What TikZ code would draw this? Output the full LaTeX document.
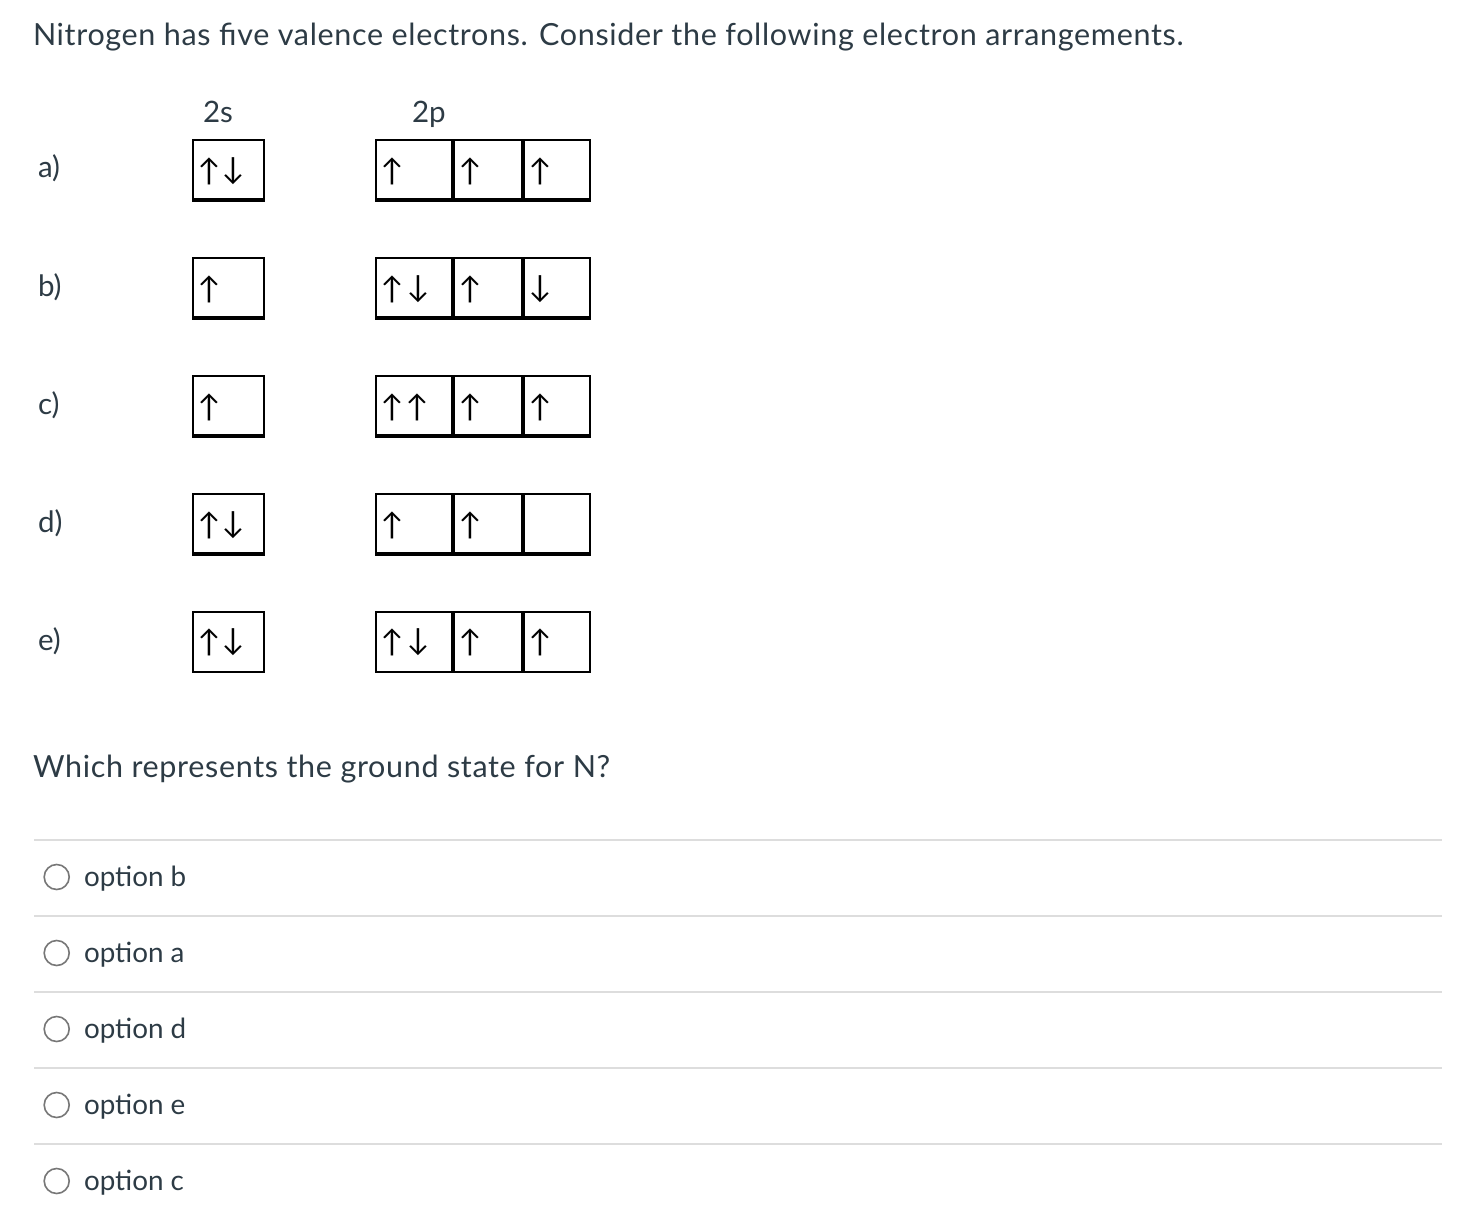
\documentclass[tikz,border=0pt]{standalone}
\usepackage{fontspec}
\setmainfont{Lato}
\newfontfamily\spacedfont[LetterSpace=2.2]{Lato}
\newfontfamily\arrowfont{Lato}
\definecolor{txtc}{HTML}{2D3B45}
\definecolor{sepc}{HTML}{DDDDDD}
\definecolor{radioc}{HTML}{777777}
\tikzset{
  txt/.style={text=txtc, font=\fontsize{29.5}{34}\selectfont, inner sep=0pt, outer sep=0pt, anchor=base west},
  bigtxt/.style={txt, font=\spacedfont\fontsize{30.5}{35}\selectfont},
  opttxt/.style={txt, font=\fontsize{27.8}{32}\selectfont},
  cell/.style={draw=black, line width=2pt, anchor=north west, minimum height=60pt, inner sep=0pt, outer sep=0pt},
  arr/.style={text=black, font=\arrowfont\fontsize{30.5}{34}\selectfont, inner sep=0pt, anchor=center},
  thickline/.style={black, line width=3.5pt},
  sepline/.style={sepc, line width=2pt},
  radio/.style={circle, draw=radioc, line width=1.6pt, minimum size=25pt, inner sep=0pt},
}
\begin{document}
\begin{tikzpicture}[x=1pt,y=-1pt]
\useasboundingbox[fill=white] (0,0) rectangle (1468,1228);

\node[bigtxt] (title) at (33,46) {Nitrogen has five valence electrons. Consider the following electron arrangements.};
\node[txt] (h2s) at (203,123) {2s};
\node[txt] (h2p) at (412,123) {2p};

\foreach \r/\y in {a/140,b/258,c/376,d/494,e/612}{
  \node[txt] (\r lab) at (38,\y+38) {\r)};
  \node[cell, minimum width=71pt] (\r s) at (193,\y) {};
  \node[cell, minimum width=77pt] (\r p1) at (376,\y) {};
  \node[cell, minimum width=70pt] (\r p2) at (453,\y) {};
  \node[cell, minimum width=67pt] (\r p3) at (523,\y) {};
  \draw[thickline] (\r p1.north east) -- (\r p1.south east);
  \draw[thickline] (\r p2.north east) -- (\r p2.south east);
}
\foreach \r in {a,b,c,d}{
  \draw[thickline] ([xshift=-1pt]\r s.south west) -- ([xshift=1pt]\r s.south east);
  \draw[thickline] ([xshift=-1pt]\r p1.south west) -- ([xshift=1pt]\r p3.south east);
}

% row a
\node[arr] (a1) at (209,171) {↑};
\node[arr] (a2) at (233,171) {↓};
\node[arr] (a3) at (392,171) {↑};
\node[arr] (a4) at (470,171) {↑};
\node[arr] (a5) at (540,171) {↑};
% row b
\node[arr] (b1) at (209,289) {↑};
\node[arr] (b3) at (392,289) {↑};
\node[arr] (b4) at (418,289) {↓};
\node[arr] (b5) at (470,289) {↑};
\node[arr] (b6) at (540,289) {↓};
% row c
\node[arr] (c1) at (209,407) {↑};
\node[arr] (c3) at (392,407) {↑};
\node[arr] (c4) at (417,407) {↑};
\node[arr] (c5) at (470,407) {↑};
\node[arr] (c6) at (540,407) {↑};
% row d
\node[arr] (d1) at (209,525) {↑};
\node[arr] (d2) at (233,525) {↓};
\node[arr] (d3) at (392,525) {↑};
\node[arr] (d4) at (470,525) {↑};
% row e
\node[arr] (e1) at (209,642) {↑};
\node[arr] (e2) at (233,642) {↓};
\node[arr] (e3) at (392,642) {↑};
\node[arr] (e4) at (418,642) {↓};
\node[arr] (e5) at (470,642) {↑};
\node[arr] (e6) at (540,642) {↑};

\node[bigtxt] (question) at (33,777) {Which represents the ground state for N?};

\foreach \yy in {840,916,992,1068,1144}{
  \draw[sepline] (34,\yy) -- (1442,\yy);
}
\foreach \k/\t [count=\i from 0] in {ob/option b,oa/option a,od/option d,oe/option e,oc/option c}{
  \node[radio] (r\k) at (56.7,877+76*\i) {};
  \node[opttxt] (t\k) at (84,886+76*\i) {\t};
}
\end{tikzpicture}
\end{document}
